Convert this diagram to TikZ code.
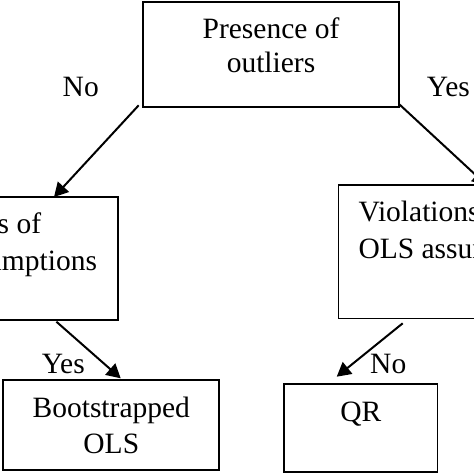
\documentclass[tikz,border=0pt]{standalone}
\usepackage{fontspec}
\setmainfont{Liberation Serif}
\usetikzlibrary{arrows.meta, calc, positioning}
\tikzset{
    flowBox/.style={draw, rectangle, line width=1.7pt, inner sep=0pt, outer sep=0pt, anchor=north west, font=\fontsize{29.5}{34}\selectfont},
    flowBoxLeft/.style={flowBox, inner xsep=20pt},
    flowArrow/.style={-{Triangle[length=14pt, width=15pt]}, line width=2pt},
    flowLabel/.style={inner sep=0pt, anchor=base west, font=\fontsize{29.5}{34}\selectfont},
}
% text box of fixed size, first line set from the top
\newcommand{\boxMid}[4][34pt]{%
    \parbox[c][#3][t]{#2}{\baselineskip=#1\centering\rule{0pt}{37pt}#4}%
}
\newcommand{\boxLeft}[3]{%
    \parbox[c][#2][t]{#1}{\baselineskip=36.6pt\raggedright\rule{0pt}{36.5pt}#3}%
}
\begin{document}
\begin{tikzpicture}[x=1pt, y=-1pt]
        \useasboundingbox (0,0) rectangle (474,474);
        \clip (0,0) rectangle (474,474);

        \node[flowBox] (top) at (142.7,1.7) {\boxMid{256.6pt}{105.6pt}{Presence of\\outliers}};
        \node[flowBoxLeft] (vioL) at (-132,197) {\boxLeft{210pt}{123pt}{Violations of\\OLS assumptions}};
        \node[flowBoxLeft] (vioR) at (338.5,185) {\boxLeft{210pt}{133.5pt}{Violations of\\OLS assumptions}};
        \node[flowBox] (boot) at (3.3,380) {\boxMid[36.6pt]{216pt}{90pt}{Bootstrapped\\OLS}};
        \node[flowBox] (qr) at (284,384) {\boxMid{153.5pt}{87.7pt}{QR}};

        \draw[flowArrow] ([xshift=-4pt, yshift=2pt]top.south west) -- ([xshift=-64pt]vioL.north east);
        \draw[flowArrow] ([yshift=3pt]top.south east) -- ([xshift=148pt]vioR.north west);
        \draw[flowArrow] ([xshift=-61.6pt, yshift=-1.7pt]vioL.south east) -- ([xshift=117.4pt, yshift=1.7pt]boot.north west);
        \draw[flowArrow] ([xshift=64.2pt, yshift=-4.8pt]vioR.south west) -- ([xshift=52.7pt, yshift=7.3pt]qr.north west);

        \node[flowLabel] (noTop) at (62.5,96) {No};
        \node[flowLabel] (yesTop) at (426.7,96) {Yes};
        \node[flowLabel] (yesBoot) at (41.7,373.3) {Yes};
        \node[flowLabel] (noQr) at (370,373.3) {No};

    \end{tikzpicture}
\end{document}
